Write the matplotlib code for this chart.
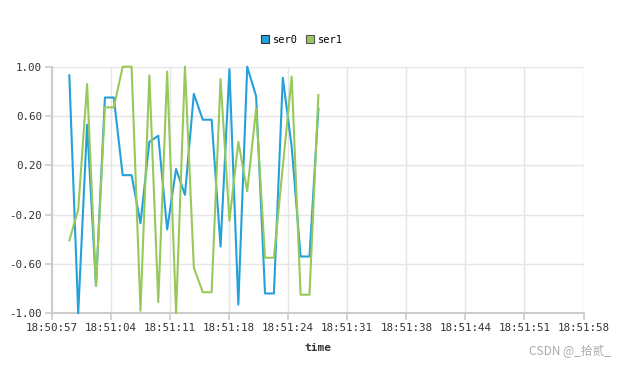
import numpy as np
import pandas as pd
import matplotlib
matplotlib.use("Agg")
import matplotlib.pyplot as plt
import matplotlib.dates as mdates
from matplotlib.lines import Line2D

# waarden (1 meting per ~seconde)
ser0 = [0.93, -1.00, 0.53, -0.78, 0.75, 0.75, 0.12, 0.12, -0.27, 0.39,
        0.44, -0.32, 0.17, -0.04, 0.78, 0.57, 0.57, -0.46, 0.98, -0.93,
        1.00, 0.76, -0.84, -0.84, 0.91, 0.35, -0.54, -0.54, 0.66]
ser1 = [-0.41, -0.16, 0.86, -0.78, 0.67, 0.67, 1.00, 1.00, -0.98, 0.93,
        -0.91, 0.96, -1.00, 1.00, -0.63, -0.83, -0.83, 0.90, -0.25, 0.39,
        -0.01, 0.66, -0.55, -0.55, 0.19, 0.92, -0.85, -0.85, 0.77]
times = pd.date_range("2023-01-01 18:50:59.54", periods=len(ser0), freq="1020ms")

tick_labels = ["18:50:57", "18:51:04", "18:51:11", "18:51:18", "18:51:24",
               "18:51:31", "18:51:38", "18:51:44", "18:51:51", "18:51:58"]
y_ticks = [1.0, 0.6, 0.2, -0.2, -0.6, -1.0]

blue = "#25a0da"
green = "#97c95a"
grid_c = "#e5e5e5"
axis_c = "#cccccc"
font = "DejaVu Sans Mono"

fig = plt.figure(figsize=(6.23, 3.71), dpi=100)
ax = fig.add_axes([0.0827, 0.1558, 0.8539, 0.6644])

ax.plot(times, ser0, color=blue, lw=1.5, zorder=3, clip_on=False)
ax.plot(times, ser1, color=green, lw=1.5, zorder=4, clip_on=False)

# x-as: van 2 metingen voor de eerste tot ~61 s verder
step = pd.Timedelta("1020ms")
xmin = times[0] - 2 * step
xmax = xmin + pd.Timedelta(seconds=61.0)
ax.set_xlim(xmin, xmax)
xt = np.linspace(mdates.date2num(xmin), mdates.date2num(xmax), len(tick_labels))
ax.set_xticks(xt)
ax.set_xticklabels(tick_labels, fontsize=7.8, family=font, color="#333333")

ax.set_ylim(-1.0, 1.0)
ax.set_yticks(y_ticks)
ax.set_yticklabels(["%.2f" % v for v in y_ticks], fontsize=7.8, family=font, color="#333333")

ax.grid(True, color=grid_c, lw=1)
ax.set_axisbelow(True)
for s in ["top", "right"]:
    ax.spines[s].set_visible(False)
for s in ["left", "bottom"]:
    ax.spines[s].set_color(axis_c)
    ax.spines[s].set_linewidth(1.5)
ax.tick_params(axis="both", colors=axis_c, length=5, width=1.2, labelcolor="#333333", pad=2)

ax.set_xlabel("time", fontsize=8, family=font, fontweight="bold", color="#333333", labelpad=7)

handles = [Line2D([], [], ls="", marker="s", ms=5.5, mfc=blue, mec="#333333", mew=0.8),
           Line2D([], [], ls="", marker="s", ms=5.5, mfc=green, mec="#555555", mew=0.8)]
fig.legend(handles, ["ser0", "ser1"], loc="center", bbox_to_anchor=(0.484, 0.893),
           ncol=2, frameon=False, handlelength=1.0, handletextpad=0.25, columnspacing=0.7,
           prop={"family": font, "size": 7.5})

fig.text(0.98, 0.035, "CSDN @_拾贰_", ha="right", va="bottom", fontsize=8.5,
         color="#aaaaaa", family=["Noto Sans CJK SC", "DejaVu Sans"])

fig.savefig("out.png", dpi=100)
